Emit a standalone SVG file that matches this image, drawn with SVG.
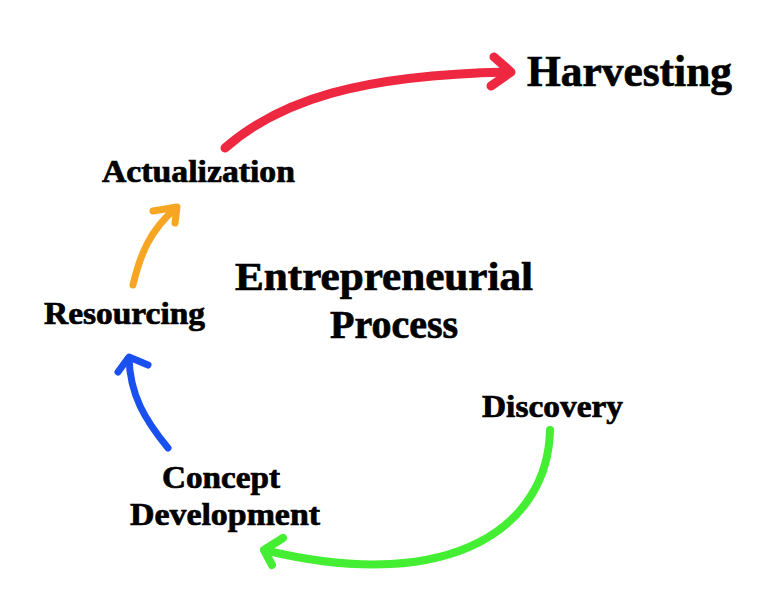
<svg xmlns="http://www.w3.org/2000/svg" width="768" height="609" viewBox="0 0 768 609">
<style>
text{font-family:"Liberation Serif","Times New Roman",serif;font-weight:bold;fill:#000;stroke:#000;stroke-width:0.7;}
.c{fill:none;stroke-linecap:round;stroke-linejoin:round;}
</style>
<rect width="768" height="609" fill="#fff"/>
<g id="connectors">
<path class="c" stroke="#ee2840" stroke-width="9" d="M225,148 C280,100 360,75 508,72"/>
<path class="c" stroke="#ee2840" stroke-width="9" d="M494,57 L511,72 L491,86"/>
<path class="c" stroke="#f6a623" stroke-width="7" d="M133,285 C140,255 150,230 176,208"/>
<path class="c" stroke="#f6a623" stroke-width="7" d="M153,211 L177,207 L175,223"/>
<path class="c" stroke="#1a4ff0" stroke-width="7" d="M168,448 C145,420 130,395 129,358"/>
<path class="c" stroke="#1a4ff0" stroke-width="7" d="M118,372 L129,357 L148,365"/>
<path class="c" stroke="#44ee33" stroke-width="8" d="M550,430 C548,525 455,595 268,551"/>
<path class="c" stroke="#44ee33" stroke-width="8" d="M283,538 L264,550 L272,565"/>
</g>
<g id="harvesting"><text x="527" y="86" font-size="44" textLength="205" lengthAdjust="spacingAndGlyphs">Harvesting</text></g>
<g id="actualization"><text x="102" y="182" font-size="31" textLength="193" lengthAdjust="spacingAndGlyphs">Actualization</text></g>
<g id="title"><text x="235" y="290" font-size="39" textLength="298" lengthAdjust="spacingAndGlyphs">Entrepreneurial</text>
<text x="330" y="338" font-size="39" textLength="128" lengthAdjust="spacingAndGlyphs">Process</text></g>
<g id="resourcing"><text x="44" y="324" font-size="31" textLength="161" lengthAdjust="spacingAndGlyphs">Resourcing</text></g>
<g id="discovery"><text x="482" y="417" font-size="31" textLength="141" lengthAdjust="spacingAndGlyphs">Discovery</text></g>
<g id="concept"><text x="162" y="488" font-size="31" textLength="118" lengthAdjust="spacingAndGlyphs">Concept</text>
<text x="130" y="525" font-size="31" textLength="190" lengthAdjust="spacingAndGlyphs">Development</text></g>
</svg>
